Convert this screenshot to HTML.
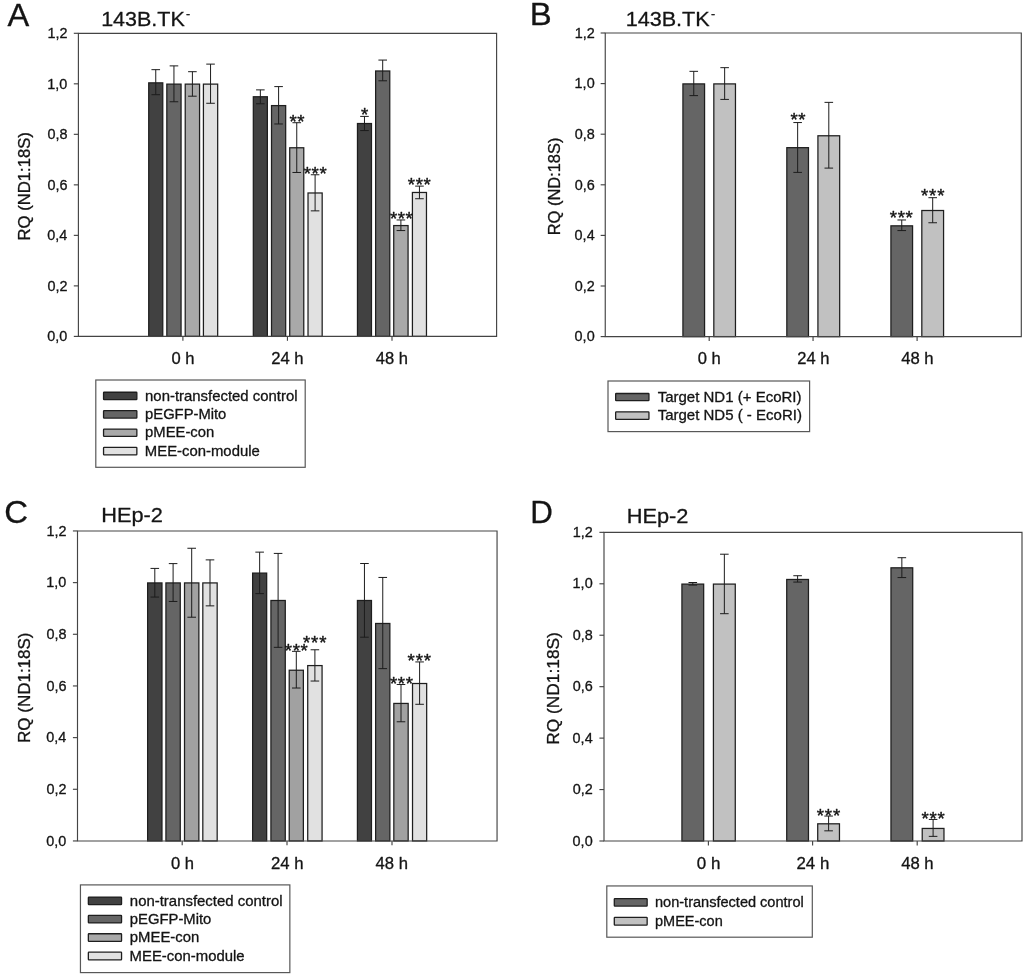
<!DOCTYPE html>
<html lang="en"><head><meta charset="utf-8"><title>Figure</title>
<style>html,body{margin:0;padding:0;background:#fff}svg{display:block;font-family:"Liberation Sans",Arial,sans-serif;fill:#141414}text{stroke:#141414;stroke-width:.3px;stroke-linejoin:round}.st{stroke-width:.4px}</style></head><body>
<svg width="1024" height="976" viewBox="0 0 1024 976">
<rect width="1024" height="976" fill="#fff"/>
<g>
<rect x="148.72" y="82.85" width="14.05" height="253.55" fill="#414141" stroke="#1e1e1e" stroke-width="1.25"/>
<rect x="166.82" y="84.12" width="14.25" height="252.28" fill="#656565" stroke="#1e1e1e" stroke-width="1.25"/>
<rect x="185.22" y="84.12" width="14.35" height="252.28" fill="#a9a9a9" stroke="#1e1e1e" stroke-width="1.25"/>
<rect x="203.42" y="84.12" width="14.25" height="252.28" fill="#e1e1e1" stroke="#1e1e1e" stroke-width="1.25"/>
<rect x="253.32" y="96.75" width="14.05" height="239.65" fill="#414141" stroke="#1e1e1e" stroke-width="1.25"/>
<rect x="271.52" y="105.59" width="14.15" height="230.81" fill="#656565" stroke="#1e1e1e" stroke-width="1.25"/>
<rect x="289.72" y="147.77" width="14.05" height="188.63" fill="#a9a9a9" stroke="#1e1e1e" stroke-width="1.25"/>
<rect x="308.02" y="192.98" width="14.15" height="143.42" fill="#e1e1e1" stroke="#1e1e1e" stroke-width="1.25"/>
<rect x="357.47" y="123.52" width="14" height="212.88" fill="#414141" stroke="#1e1e1e" stroke-width="1.25"/>
<rect x="375.62" y="70.98" width="14.15" height="265.42" fill="#656565" stroke="#1e1e1e" stroke-width="1.25"/>
<rect x="393.72" y="225.56" width="14.35" height="110.84" fill="#a9a9a9" stroke="#1e1e1e" stroke-width="1.25"/>
<rect x="412.42" y="192.47" width="14.05" height="143.93" fill="#e1e1e1" stroke="#1e1e1e" stroke-width="1.25"/>
<path d="M78.4 33.3H496.6V336.4H78.4Z" fill="none" stroke="#444444" stroke-width="1.15"/>
<path d="M155.75 69.67V94.68M151.45 69.67H160.05M151.45 94.68H160.05" fill="none" stroke="#1c1c1c" stroke-width="1"/>
<path d="M173.95 65.88V101.75M169.65 65.88H178.25M169.65 101.75H178.25" fill="none" stroke="#1c1c1c" stroke-width="1"/>
<path d="M192.4 71.69V96.19M188.1 71.69H196.7M188.1 96.19H196.7" fill="none" stroke="#1c1c1c" stroke-width="1"/>
<path d="M210.55 64.12V103.27M206.25 64.12H214.85M206.25 103.27H214.85" fill="none" stroke="#1c1c1c" stroke-width="1"/>
<path d="M260.35 89.88V103.77M256.05 89.88H264.65M256.05 103.77H264.65" fill="none" stroke="#1c1c1c" stroke-width="1"/>
<path d="M278.6 86.6V123.98M274.3 86.6H282.9M274.3 123.98H282.9" fill="none" stroke="#1c1c1c" stroke-width="1"/>
<path d="M296.75 122.71V172.47M292.45 122.71H301.05M292.45 172.47H301.05" fill="none" stroke="#1c1c1c" stroke-width="1"/>
<path d="M315.1 174.75V210.87M310.8 174.75H319.4M310.8 210.87H319.4" fill="none" stroke="#1c1c1c" stroke-width="1"/>
<path d="M364.48 116.4V130.54M360.18 116.4H368.78M360.18 130.54H368.78" fill="none" stroke="#1c1c1c" stroke-width="1"/>
<path d="M382.7 60.07V80.79M378.4 60.07H387M378.4 80.79H387" fill="none" stroke="#1c1c1c" stroke-width="1"/>
<path d="M400.9 219.96V230.57M396.6 219.96H405.2M396.6 230.57H405.2" fill="none" stroke="#1c1c1c" stroke-width="1"/>
<path d="M419.45 186.11V198.74M415.15 186.11H423.75M415.15 198.74H423.75" fill="none" stroke="#1c1c1c" stroke-width="1"/>
<path d="M73.8 336.4H78.4" stroke="#444444" stroke-width="1.15"/>
<text transform="translate(47.21 341.1) scale(1.0300 1)" font-size="14">0,0</text>
<path d="M73.8 285.88H78.4" stroke="#444444" stroke-width="1.15"/>
<text transform="translate(47.44 290.58) scale(1.0300 1)" font-size="14">0,2</text>
<path d="M73.8 235.37H78.4" stroke="#444444" stroke-width="1.15"/>
<text transform="translate(47.21 240.07) scale(1.0300 1)" font-size="14">0,4</text>
<path d="M73.8 184.85H78.4" stroke="#444444" stroke-width="1.15"/>
<text transform="translate(47.44 189.55) scale(1.0300 1)" font-size="14">0,6</text>
<path d="M73.8 134.33H78.4" stroke="#444444" stroke-width="1.15"/>
<text transform="translate(47.44 139.03) scale(1.0300 1)" font-size="14">0,8</text>
<path d="M73.8 83.82H78.4" stroke="#444444" stroke-width="1.15"/>
<text transform="translate(47.21 88.52) scale(1.0300 1)" font-size="14">1,0</text>
<path d="M73.8 33.3H78.4" stroke="#444444" stroke-width="1.15"/>
<text transform="translate(47.44 38) scale(1.0300 1)" font-size="14">1,2</text>
<path d="M182.9 336.4V340.8" stroke="#444444" stroke-width="1.15"/>
<text transform="translate(171.38 363.8) scale(1.0629 1)" font-size="15.6">0 h</text>
<path d="M287.45 336.4V340.8" stroke="#444444" stroke-width="1.15"/>
<text transform="translate(271.22 363.8) scale(1.0676 1)" font-size="15.6">24 h</text>
<path d="M392 336.4V340.8" stroke="#444444" stroke-width="1.15"/>
<text transform="translate(375.84 363.8) scale(1.0601 1)" font-size="15.6">48 h</text>
<text transform="translate(30 240.4) rotate(-90) scale(1.0684 1)" font-size="15.6">RQ (ND1:18S)</text>
<text transform="translate(7.4 26) scale(1.0515 1)" font-size="31">A</text>
<text transform="translate(101.16 26) scale(1.0240 1)" font-size="21">143B.TK</text>
<text x="186" y="18.4" font-size="12.5">-</text>
<text class="st" x="289.41 297.32" y="128.24" font-size="18.6">**</text>
<text class="st" x="303.66 311.54 319.43" y="180.34" font-size="18.6">***</text>
<text class="st" x="361.11" y="121.44" font-size="18.6">*</text>
<text class="st" x="390.11 397.87 405.62" y="225.04" font-size="18.6">***</text>
<text class="st" x="407.71 415.67 423.62" y="191.24" font-size="18.6">***</text>
<rect x="95.8" y="380" width="209.4" height="87.3" fill="#fff" stroke="#585858" stroke-width="1.2"/>
<rect x="103.55" y="392.25" width="33.3" height="7.4" rx=".6" fill="#414141" stroke="#1e1e1e" stroke-width="1.3"/>
<text transform="translate(145.07 400.8) scale(1.0658 1)" font-size="14">non-transfected control</text>
<rect x="103.55" y="410.65" width="33.3" height="7.4" rx=".6" fill="#656565" stroke="#1e1e1e" stroke-width="1.3"/>
<text transform="translate(145.08 419) scale(1.0560 1)" font-size="14">pEGFP-Mito</text>
<rect x="103.55" y="429.05" width="33.3" height="7.3" rx=".6" fill="#a9a9a9" stroke="#1e1e1e" stroke-width="1.3"/>
<text transform="translate(145.07 437.3) scale(1.0597 1)" font-size="14">pMEE-con</text>
<rect x="103.55" y="447.45" width="33.3" height="7.5" rx=".6" fill="#e1e1e1" stroke="#1e1e1e" stroke-width="1.3"/>
<text transform="translate(144.84 455.6) scale(1.0639 1)" font-size="14">MEE-con-module</text>
</g>
<g>
<rect x="682.92" y="83.9" width="21.65" height="252.7" fill="#656565" stroke="#1e1e1e" stroke-width="1.25"/>
<rect x="713.82" y="83.9" width="21.65" height="252.7" fill="#c1c1c1" stroke="#1e1e1e" stroke-width="1.25"/>
<rect x="786.82" y="147.66" width="21.65" height="188.94" fill="#656565" stroke="#1e1e1e" stroke-width="1.25"/>
<rect x="817.92" y="135.77" width="21.75" height="200.84" fill="#c1c1c1" stroke="#1e1e1e" stroke-width="1.25"/>
<rect x="890.92" y="225.83" width="21.65" height="110.77" fill="#656565" stroke="#1e1e1e" stroke-width="1.25"/>
<rect x="921.82" y="210.5" width="21.75" height="126.1" fill="#c1c1c1" stroke="#1e1e1e" stroke-width="1.25"/>
<path d="M605.25 33H1021.3V336.6H605.25Z" fill="none" stroke="#444444" stroke-width="1.15"/>
<path d="M693.75 71.33V95.62M689.45 71.33H698.05M689.45 95.62H698.05" fill="none" stroke="#1c1c1c" stroke-width="1"/>
<path d="M724.65 67.66V99.41M720.35 67.66H728.95M720.35 99.41H728.95" fill="none" stroke="#1c1c1c" stroke-width="1"/>
<path d="M797.65 122.56V172.4M793.35 122.56H801.95M793.35 172.4H801.95" fill="none" stroke="#1c1c1c" stroke-width="1"/>
<path d="M828.8 102.37V168.1M824.5 102.37H833.1M824.5 168.1H833.1" fill="none" stroke="#1c1c1c" stroke-width="1"/>
<path d="M901.75 219.97V230.59M897.45 219.97H906.05M897.45 230.59H906.05" fill="none" stroke="#1c1c1c" stroke-width="1"/>
<path d="M932.7 197.7V222.75M928.4 197.7H937M928.4 222.75H937" fill="none" stroke="#1c1c1c" stroke-width="1"/>
<path d="M600.65 336.6H605.25" stroke="#444444" stroke-width="1.15"/>
<text transform="translate(574.61 341.3) scale(1.0300 1)" font-size="14">0,0</text>
<path d="M600.65 286H605.25" stroke="#444444" stroke-width="1.15"/>
<text transform="translate(574.84 290.7) scale(1.0300 1)" font-size="14">0,2</text>
<path d="M600.65 235.4H605.25" stroke="#444444" stroke-width="1.15"/>
<text transform="translate(574.61 240.1) scale(1.0300 1)" font-size="14">0,4</text>
<path d="M600.65 184.8H605.25" stroke="#444444" stroke-width="1.15"/>
<text transform="translate(574.84 189.5) scale(1.0300 1)" font-size="14">0,6</text>
<path d="M600.65 134.2H605.25" stroke="#444444" stroke-width="1.15"/>
<text transform="translate(574.84 138.9) scale(1.0300 1)" font-size="14">0,8</text>
<path d="M600.65 83.6H605.25" stroke="#444444" stroke-width="1.15"/>
<text transform="translate(574.61 88.3) scale(1.0300 1)" font-size="14">1,0</text>
<path d="M600.65 33H605.25" stroke="#444444" stroke-width="1.15"/>
<text transform="translate(574.84 37.7) scale(1.0300 1)" font-size="14">1,2</text>
<path d="M709.2 336.6V341" stroke="#444444" stroke-width="1.15"/>
<text transform="translate(697.78 364.3) scale(1.0629 1)" font-size="15.6">0 h</text>
<path d="M813.05 336.6V341" stroke="#444444" stroke-width="1.15"/>
<text transform="translate(797.33 364.3) scale(1.0590 1)" font-size="15.6">24 h</text>
<path d="M917.1 336.6V341" stroke="#444444" stroke-width="1.15"/>
<text transform="translate(901.14 364.3) scale(1.0704 1)" font-size="15.6">48 h</text>
<text transform="translate(560.3 235.29) rotate(-90) scale(1.0549 1)" font-size="15.6">RQ (ND:18S)</text>
<text transform="translate(529.73 25.4) scale(1.0618 1)" font-size="31">B</text>
<text transform="translate(625.65 26) scale(1.0290 1)" font-size="21">143B.TK</text>
<text x="710.9" y="18.4" font-size="12.5">-</text>
<text class="st" x="790.41 798.32" y="126.44" font-size="18.6">**</text>
<text class="st" x="889.81 897.67 905.52" y="224.14" font-size="18.6">***</text>
<text class="st" x="920.91 929.04 937.17" y="202.34" font-size="18.6">***</text>
<rect x="608" y="381" width="201.6" height="50.6" fill="#fff" stroke="#585858" stroke-width="1.2"/>
<rect x="615.65" y="393.5" width="33.3" height="7.15" rx=".6" fill="#656565" stroke="#1e1e1e" stroke-width="1.3"/>
<text transform="translate(657.67 401.9) scale(1.0730 1)" font-size="14">Target ND1 (+ EcoRI)</text>
<rect x="615.65" y="411.8" width="33.3" height="7.5" rx=".6" fill="#c1c1c1" stroke="#1e1e1e" stroke-width="1.3"/>
<text transform="translate(657.67 420.3) scale(1.0730 1)" font-size="14">Target ND5 ( - EcoRI)</text>
</g>
<g>
<rect x="147.62" y="582.92" width="14.35" height="258.03" fill="#414141" stroke="#1e1e1e" stroke-width="1.25"/>
<rect x="165.92" y="582.92" width="14.35" height="258.03" fill="#656565" stroke="#1e1e1e" stroke-width="1.25"/>
<rect x="184.52" y="582.92" width="14.35" height="258.03" fill="#a1a1a1" stroke="#1e1e1e" stroke-width="1.25"/>
<rect x="202.82" y="582.92" width="14.35" height="258.03" fill="#e1e1e1" stroke="#1e1e1e" stroke-width="1.25"/>
<rect x="252.62" y="573.1" width="14.05" height="267.85" fill="#414141" stroke="#1e1e1e" stroke-width="1.25"/>
<rect x="270.92" y="600.48" width="14.35" height="240.47" fill="#656565" stroke="#1e1e1e" stroke-width="1.25"/>
<rect x="289.22" y="670.23" width="14.15" height="170.72" fill="#a1a1a1" stroke="#1e1e1e" stroke-width="1.25"/>
<rect x="307.72" y="665.58" width="14.35" height="175.37" fill="#e1e1e1" stroke="#1e1e1e" stroke-width="1.25"/>
<rect x="357.42" y="600.48" width="14.05" height="240.47" fill="#414141" stroke="#1e1e1e" stroke-width="1.25"/>
<rect x="375.62" y="623.47" width="14.25" height="217.48" fill="#656565" stroke="#1e1e1e" stroke-width="1.25"/>
<rect x="393.82" y="703.43" width="14.35" height="137.52" fill="#a1a1a1" stroke="#1e1e1e" stroke-width="1.25"/>
<rect x="412.52" y="683.51" width="14.15" height="157.44" fill="#e1e1e1" stroke="#1e1e1e" stroke-width="1.25"/>
<path d="M77.5 530.95H497.05V840.95H77.5Z" fill="none" stroke="#444444" stroke-width="1.15"/>
<path d="M154.8 568.41V597.08M150.5 568.41H159.1M150.5 597.08H159.1" fill="none" stroke="#1c1c1c" stroke-width="1"/>
<path d="M173.1 563.6V601.48M168.8 563.6H177.4M168.8 601.48H177.4" fill="none" stroke="#1c1c1c" stroke-width="1"/>
<path d="M191.7 548.26V617.23M187.4 548.26H196M187.4 617.23H196" fill="none" stroke="#1c1c1c" stroke-width="1"/>
<path d="M210 559.88V605.87M205.7 559.88H214.3M205.7 605.87H214.3" fill="none" stroke="#1c1c1c" stroke-width="1"/>
<path d="M259.65 552.13V593.6M255.35 552.13H263.95M255.35 593.6H263.95" fill="none" stroke="#1c1c1c" stroke-width="1"/>
<path d="M278.1 553.42V647.33M273.8 553.42H282.4M273.8 647.33H282.4" fill="none" stroke="#1c1c1c" stroke-width="1"/>
<path d="M296.3 651.33V688.02M292 651.33H300.6M292 688.02H300.6" fill="none" stroke="#1c1c1c" stroke-width="1"/>
<path d="M314.9 649.78V681.04M310.6 649.78H319.2M310.6 681.04H319.2" fill="none" stroke="#1c1c1c" stroke-width="1"/>
<path d="M364.45 563.5V637.23M360.15 563.5H368.75M360.15 637.23H368.75" fill="none" stroke="#1c1c1c" stroke-width="1"/>
<path d="M382.75 577.45V668.64M378.45 577.45H387.05M378.45 668.64H387.05" fill="none" stroke="#1c1c1c" stroke-width="1"/>
<path d="M401 684.53V721.78M396.7 684.53H405.3M396.7 721.78H405.3" fill="none" stroke="#1c1c1c" stroke-width="1"/>
<path d="M419.6 661.93V704.29M415.3 661.93H423.9M415.3 704.29H423.9" fill="none" stroke="#1c1c1c" stroke-width="1"/>
<path d="M72.9 840.95H77.5" stroke="#444444" stroke-width="1.15"/>
<text transform="translate(46.31 845.65) scale(1.0300 1)" font-size="14">0,0</text>
<path d="M72.9 789.28H77.5" stroke="#444444" stroke-width="1.15"/>
<text transform="translate(46.54 793.98) scale(1.0300 1)" font-size="14">0,2</text>
<path d="M72.9 737.62H77.5" stroke="#444444" stroke-width="1.15"/>
<text transform="translate(46.31 742.32) scale(1.0300 1)" font-size="14">0,4</text>
<path d="M72.9 685.95H77.5" stroke="#444444" stroke-width="1.15"/>
<text transform="translate(46.54 690.65) scale(1.0300 1)" font-size="14">0,6</text>
<path d="M72.9 634.28H77.5" stroke="#444444" stroke-width="1.15"/>
<text transform="translate(46.54 638.98) scale(1.0300 1)" font-size="14">0,8</text>
<path d="M72.9 582.62H77.5" stroke="#444444" stroke-width="1.15"/>
<text transform="translate(46.31 587.32) scale(1.0300 1)" font-size="14">1,0</text>
<path d="M72.9 530.95H77.5" stroke="#444444" stroke-width="1.15"/>
<text transform="translate(46.54 535.65) scale(1.0300 1)" font-size="14">1,2</text>
<path d="M182.2 840.95V845.35" stroke="#444444" stroke-width="1.15"/>
<text transform="translate(170.88 868.8) scale(1.0629 1)" font-size="15.6">0 h</text>
<path d="M287 840.95V845.35" stroke="#444444" stroke-width="1.15"/>
<text transform="translate(270.92 868.8) scale(1.0711 1)" font-size="15.6">24 h</text>
<path d="M392 840.95V845.35" stroke="#444444" stroke-width="1.15"/>
<text transform="translate(375.59 868.8) scale(1.0687 1)" font-size="15.6">48 h</text>
<text transform="translate(30 742.93) rotate(-90) scale(1.0896 1)" font-size="15.6">RQ (ND1:18S)</text>
<text transform="translate(4.36 522.8) scale(1.0625 1)" font-size="31">C</text>
<text transform="translate(101.3 522.4) scale(1.0363 1)" font-size="21">HEp-2</text>
<text class="st" x="284.71 292.67 300.62" y="656.64" font-size="18.6">***</text>
<text class="st" x="303.01 311.12 319.22" y="649.24" font-size="18.6">***</text>
<text class="st" x="389.91 397.82 405.72" y="689.64" font-size="18.6">***</text>
<text class="st" x="407.61 415.67 423.72" y="667.14" font-size="18.6">***</text>
<rect x="80.45" y="884.9" width="209.4" height="87.7" fill="#fff" stroke="#585858" stroke-width="1.2"/>
<rect x="88.35" y="897.05" width="33.2" height="7.5" rx=".6" fill="#414141" stroke="#1e1e1e" stroke-width="1.3"/>
<text transform="translate(129.82 905.8) scale(1.0676 1)" font-size="14">non-transfected control</text>
<rect x="88.35" y="915.35" width="33.2" height="7.6" rx=".6" fill="#656565" stroke="#1e1e1e" stroke-width="1.3"/>
<text transform="translate(129.82 924) scale(1.0593 1)" font-size="14">pEGFP-Mito</text>
<rect x="88.35" y="933.75" width="33.2" height="7.6" rx=".6" fill="#a9a9a9" stroke="#1e1e1e" stroke-width="1.3"/>
<text transform="translate(129.82 942.3) scale(1.0636 1)" font-size="14">pMEE-con</text>
<rect x="88.35" y="952.15" width="33.2" height="7.8" rx=".6" fill="#e1e1e1" stroke="#1e1e1e" stroke-width="1.3"/>
<text transform="translate(129.59 960.6) scale(1.0644 1)" font-size="14">MEE-con-module</text>
</g>
<g>
<rect x="681.92" y="584.09" width="21.75" height="256.91" fill="#656565" stroke="#1e1e1e" stroke-width="1.25"/>
<rect x="713.42" y="584.09" width="21.85" height="256.91" fill="#c1c1c1" stroke="#1e1e1e" stroke-width="1.25"/>
<rect x="786.72" y="579.46" width="21.75" height="261.54" fill="#656565" stroke="#1e1e1e" stroke-width="1.25"/>
<rect x="817.72" y="823.81" width="21.75" height="17.19" fill="#c1c1c1" stroke="#1e1e1e" stroke-width="1.25"/>
<rect x="890.97" y="567.81" width="21.75" height="273.19" fill="#656565" stroke="#1e1e1e" stroke-width="1.25"/>
<rect x="922.22" y="828.44" width="21.75" height="12.56" fill="#c1c1c1" stroke="#1e1e1e" stroke-width="1.25"/>
<path d="M604 532.35H1022V841H604Z" fill="none" stroke="#444444" stroke-width="1.15"/>
<path d="M692.8 582.51V585.08M688.5 582.51H697.1M688.5 585.08H697.1" fill="none" stroke="#1c1c1c" stroke-width="1"/>
<path d="M724.35 554.21V613.7M720.05 554.21H728.65M720.05 613.7H728.65" fill="none" stroke="#1c1c1c" stroke-width="1"/>
<path d="M797.6 575.72V582.09M793.3 575.72H801.9M793.3 582.09H801.9" fill="none" stroke="#1c1c1c" stroke-width="1"/>
<path d="M828.6 816.05V830.84M824.3 816.05H832.9M824.3 830.84H832.9" fill="none" stroke="#1c1c1c" stroke-width="1"/>
<path d="M901.85 557.71V577.57M897.55 557.71H906.15M897.55 577.57H906.15" fill="none" stroke="#1c1c1c" stroke-width="1"/>
<path d="M933.1 819.45V836.37M928.8 819.45H937.4M928.8 836.37H937.4" fill="none" stroke="#1c1c1c" stroke-width="1"/>
<path d="M599.4 841H604" stroke="#444444" stroke-width="1.15"/>
<text transform="translate(572.61 845.7) scale(1.0300 1)" font-size="14">0,0</text>
<path d="M599.4 789.56H604" stroke="#444444" stroke-width="1.15"/>
<text transform="translate(572.84 794.26) scale(1.0300 1)" font-size="14">0,2</text>
<path d="M599.4 738.12H604" stroke="#444444" stroke-width="1.15"/>
<text transform="translate(572.61 742.82) scale(1.0300 1)" font-size="14">0,4</text>
<path d="M599.4 686.67H604" stroke="#444444" stroke-width="1.15"/>
<text transform="translate(572.84 691.38) scale(1.0300 1)" font-size="14">0,6</text>
<path d="M599.4 635.23H604" stroke="#444444" stroke-width="1.15"/>
<text transform="translate(572.84 639.93) scale(1.0300 1)" font-size="14">0,8</text>
<path d="M599.4 583.79H604" stroke="#444444" stroke-width="1.15"/>
<text transform="translate(572.61 588.49) scale(1.0300 1)" font-size="14">1,0</text>
<path d="M599.4 532.35H604" stroke="#444444" stroke-width="1.15"/>
<text transform="translate(572.84 537.05) scale(1.0300 1)" font-size="14">1,2</text>
<path d="M708.4 841V845.4" stroke="#444444" stroke-width="1.15"/>
<text transform="translate(696.77 869) scale(1.0875 1)" font-size="15.6">0 h</text>
<path d="M812.6 841V845.4" stroke="#444444" stroke-width="1.15"/>
<text transform="translate(796.51 869) scale(1.0781 1)" font-size="15.6">24 h</text>
<path d="M917.2 841V845.4" stroke="#444444" stroke-width="1.15"/>
<text transform="translate(901.14 869) scale(1.0704 1)" font-size="15.6">48 h</text>
<text transform="translate(558.7 744.65) rotate(-90) scale(1.1097 1)" font-size="15.6">RQ (ND1:18S)</text>
<text transform="translate(530.25 522.6) scale(1.0111 1)" font-size="31">D</text>
<text transform="translate(626.7 522.6) scale(1.0380 1)" font-size="21">HEp-2</text>
<text class="st" x="816.81 824.87 832.92" y="821.54" font-size="18.6">***</text>
<text class="st" x="921.41 929.47 937.52" y="825.24" font-size="18.6">***</text>
<rect x="606.8" y="885.95" width="205.5" height="51.25" fill="#fff" stroke="#585858" stroke-width="1.2"/>
<rect x="614.3" y="898.65" width="32.85" height="7.45" rx=".6" fill="#656565" stroke="#1e1e1e" stroke-width="1.3"/>
<text transform="translate(654.99 907.3) scale(1.0404 1)" font-size="14">non-transfected control</text>
<rect x="614.3" y="917.35" width="32.85" height="7.7" rx=".6" fill="#c1c1c1" stroke="#1e1e1e" stroke-width="1.3"/>
<text transform="translate(654.99 925.8) scale(1.0377 1)" font-size="14">pMEE-con</text>
</g>
</svg></body></html>
